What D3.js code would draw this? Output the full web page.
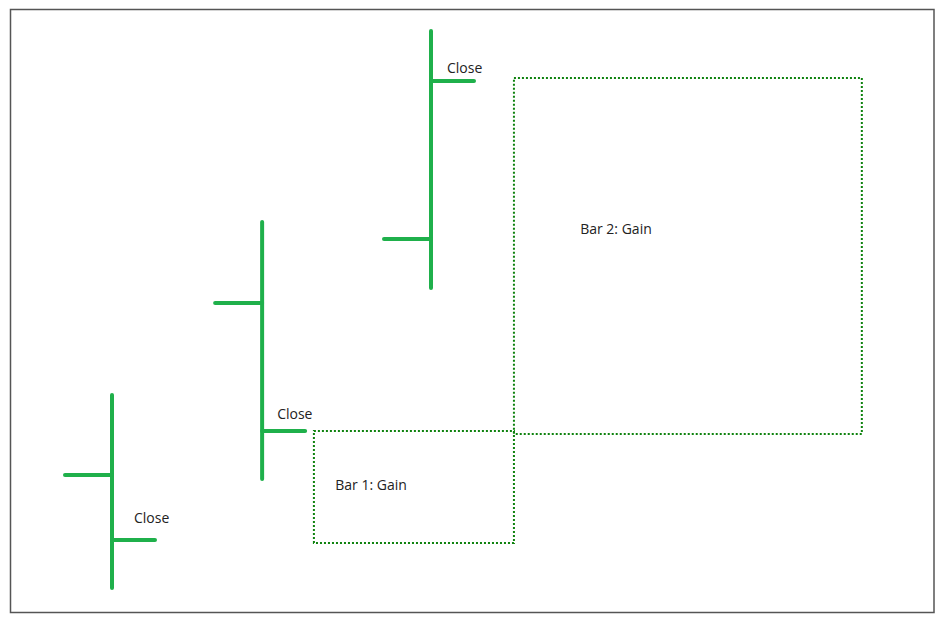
<!DOCTYPE html>
<html lang="en">
<head>
    <meta charset="UTF-8"/>
    <title>OHLC Gain Annotations</title>
    <script src="https://d3js.org/d3.v7.min.js"></script>
    <style>
        body { margin: 0; background: #fff; }
        text { font-family: "Open Sans", "Noto Sans", sans-serif; font-size: 14px; fill: #222; }
    </style>
</head>
<body>
    <script>
        // bar data (x in trading days, y in price units)
        var days   = [0, 8, 17];
        var opens  = [6.85, 15.45, 18.65];
        var highs  = [10.85, 19.5, 29.05];
        var lows   = [1.2, 6.65, 16.2];
        var closes = [3.6, 9.05, 26.55];

        // "Close" label anchors
        var closeLabelDays  = [1.17, 8.8, 17.85];
        var closeLabelPrice = [4.45, 9.65, 26.95];

        // gain boxes between consecutive closes
        var gainNames  = ["Bar 1: Gain", "Bar 2: Gain"];
        var gainDay0   = [10.76, 21.42];
        var gainDay1   = [21.42, 39.96];
        var gainTop    = [9.05, 26.7];
        var gainBottom = [3.45, 8.9];
        var gainTextDay   = [11.9, 24.95];
        var gainTextPrice = [6.1, 18.9];

        var w = 940;
        var h = 622;
        var tickL = 47;
        var tickR = 43;

        var xScale = d3.scaleLinear()
                        .domain([0, 17])
                        .range([112, 431]);

        var yScale = d3.scaleLinear()
                        .domain([0, 30.1])
                        .range([612, 10]);

        var svg = d3.select("body")
                    .append("svg")
                    .attr("width", w)
                    .attr("height", h);

        svg.append("rect")
           .attr("x", 10.5)
           .attr("y", 9.5)
           .attr("width", 923.5)
           .attr("height", 603)
           .attr("fill", "none")
           .attr("stroke", "#555")
           .attr("stroke-width", 1.5);

        var bars = days.map(function(d, i) {
            return { day: d, open: opens[i], high: highs[i], low: lows[i], close: closes[i] };
        });

        var g = svg.selectAll("g.bar")
                   .data(bars)
                   .enter()
                   .append("g")
                   .attr("class", "bar")
                   .attr("stroke", "#1fb04b")
                   .attr("stroke-width", 4)
                   .attr("stroke-linecap", "round");

        g.append("line")
         .attr("x1", function(d) { return xScale(d.day); })
         .attr("x2", function(d) { return xScale(d.day); })
         .attr("y1", function(d) { return yScale(d.high); })
         .attr("y2", function(d) { return yScale(d.low); });

        g.append("line")
         .attr("x1", function(d) { return xScale(d.day) - tickL; })
         .attr("x2", function(d) { return xScale(d.day); })
         .attr("y1", function(d) { return yScale(d.open); })
         .attr("y2", function(d) { return yScale(d.open); });

        g.append("line")
         .attr("x1", function(d) { return xScale(d.day); })
         .attr("x2", function(d) { return xScale(d.day) + tickR; })
         .attr("y1", function(d) { return yScale(d.close); })
         .attr("y2", function(d) { return yScale(d.close); });

        svg.selectAll("text.close")
           .data(closeLabelDays)
           .enter()
           .append("text")
           .attr("class", "close")
           .attr("x", function(d) { return xScale(d); })
           .attr("y", function(d, i) { return yScale(closeLabelPrice[i]); })
           .text("Close");

        svg.selectAll("rect.gain")
           .data(gainNames)
           .enter()
           .append("rect")
           .attr("class", "gain")
           .attr("x", function(d, i) { return xScale(gainDay0[i]); })
           .attr("y", function(d, i) { return yScale(gainTop[i]); })
           .attr("width", function(d, i) { return xScale(gainDay1[i]) - xScale(gainDay0[i]); })
           .attr("height", function(d, i) { return yScale(gainBottom[i]) - yScale(gainTop[i]); })
           .attr("fill", "none")
           .attr("stroke", "#0e820e")
           .attr("stroke-width", 2)
           .attr("stroke-dasharray", "2,2");

        svg.selectAll("text.gain")
           .data(gainNames)
           .enter()
           .append("text")
           .attr("class", "gain")
           .attr("x", function(d, i) { return xScale(gainTextDay[i]); })
           .attr("y", function(d, i) { return yScale(gainTextPrice[i]); })
           .text(function(d) { return d; });
    </script>
</body>
</html>
